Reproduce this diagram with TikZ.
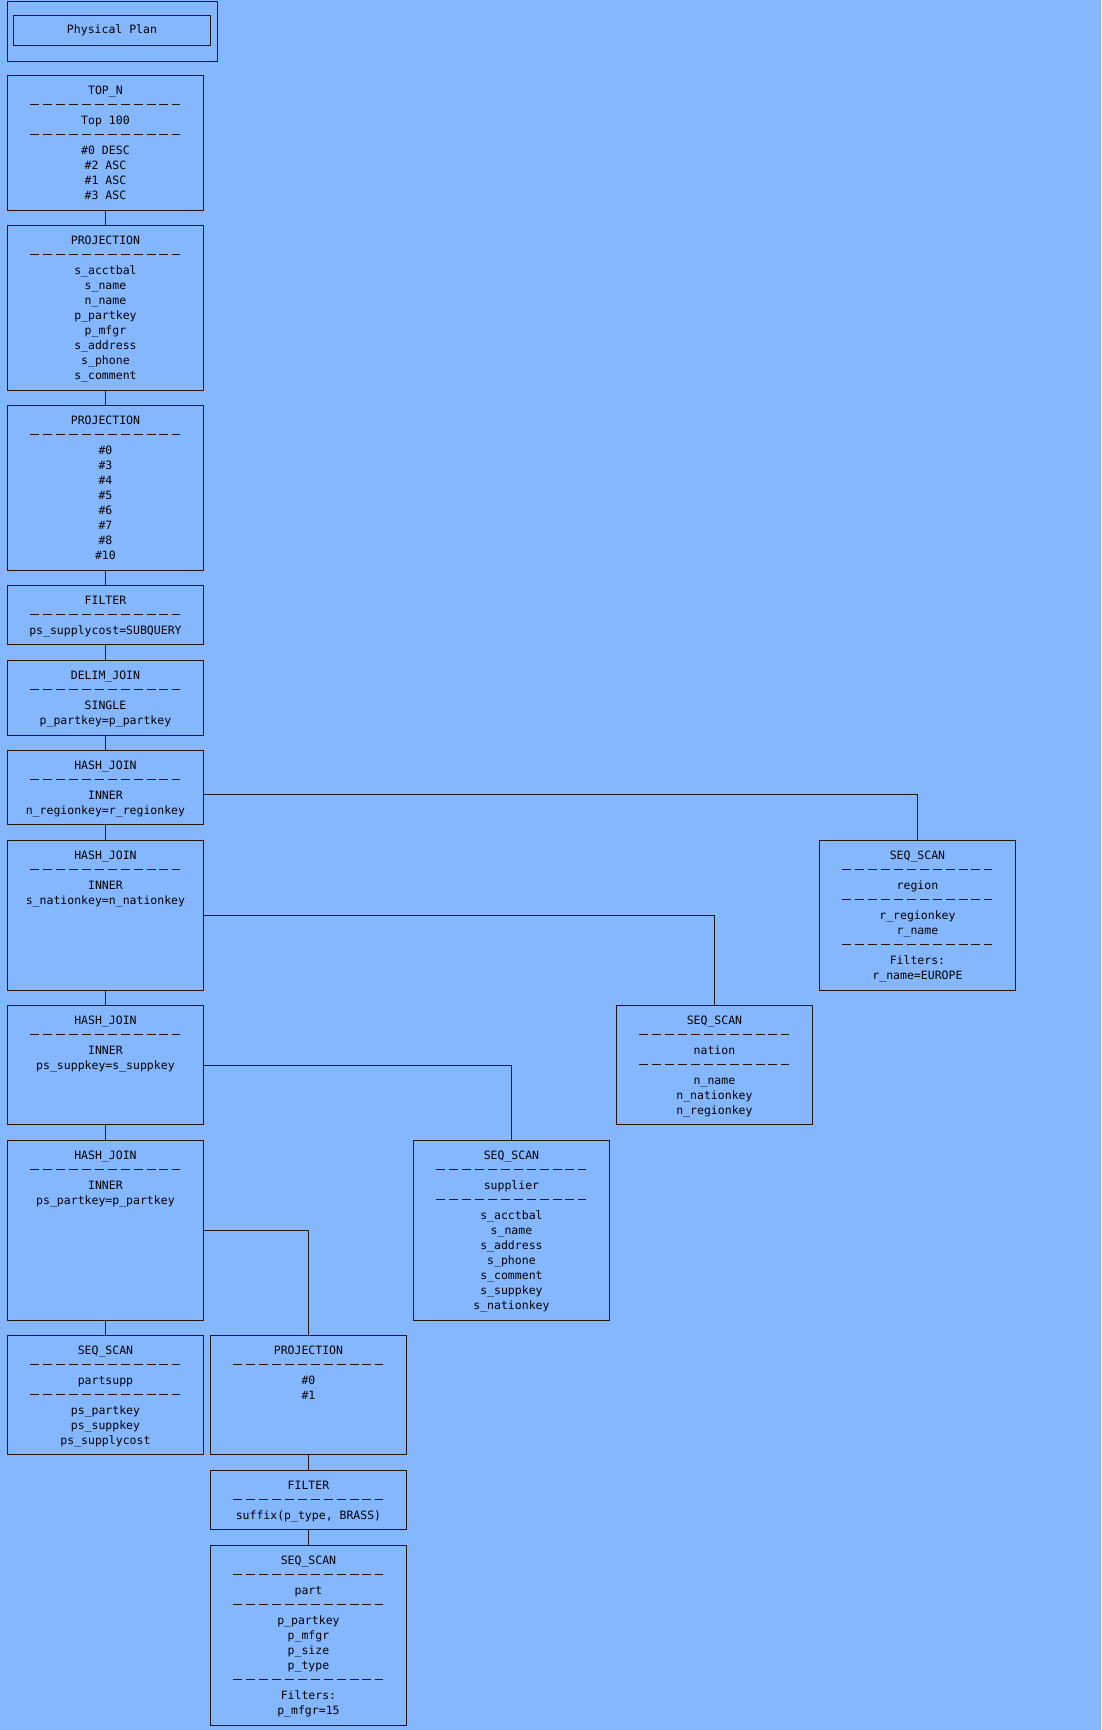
\documentclass[tikz,border=0pt]{standalone}
\usepackage{fontspec}
\setmainfont{DejaVu Sans Mono}
\definecolor{bg}{RGB}{133,183,255}
\definecolor{ln}{RGB}{40,22,10}
\newcommand{\sepl}{\smash{\raisebox{4pt}{\tikz\draw[ln,line width=1pt,dash pattern=on 9pt off 3.9pt](0,0)--(150pt,0);}}}
\begin{document}
\begin{tikzpicture}[x=1pt,y=-1pt,
  box/.style={draw=ln,line width=0.9pt,anchor=north west,inner sep=0,minimum width=196pt},
  txt/.style={anchor=north,inner sep=0,align=center,font=\fontsize{11.5pt}{15pt}\selectfont,text=black},
  con/.style={draw=ln,line width=0.9pt}]
\fill[bg] (0,0) rectangle (1101,1730);
\useasboundingbox (0,0) rectangle (1101,1730);
% title
\node[draw=ln,line width=1pt,anchor=north west,minimum width=210pt,minimum height=60pt,inner sep=0] (outer) at (7,1) {};
\node[draw=ln,line width=1pt,anchor=north west,minimum width=197pt,minimum height=30pt,inner sep=0,font=\fontsize{11.5pt}{15pt}\selectfont] (title) at (13,15) {Physical Plan};
% boxes
\newcommand{\bx}[5]{\node[box,minimum height=#4pt] (#1) at (#2,#3) {};
  \node[txt] at ([yshift=-10.5pt]#1.north) {#5};}
\bx{topn}{7}{75}{135}{TOP\_N\\\sepl\\Top 100\\\sepl\\\#0 DESC\\\#2 ASC\\\#1 ASC\\\#3 ASC}
\bx{pa}{7}{225}{165}{PROJECTION\\\sepl\\s\_acctbal\\s\_name\\n\_name\\p\_partkey\\p\_mfgr\\s\_address\\s\_phone\\s\_comment}
\bx{pb}{7}{405}{165}{PROJECTION\\\sepl\\\#0\\\#3\\\#4\\\#5\\\#6\\\#7\\\#8\\\#10}
\bx{fa}{7}{585}{59}{FILTER\\\sepl\\ps\_supplycost=SUBQUERY}
\bx{dj}{7}{660}{75}{DELIM\_JOIN\\\sepl\\SINGLE\\p\_partkey=p\_partkey}
\bx{ha}{7}{750}{74}{HASH\_JOIN\\\sepl\\INNER\\n\_regionkey=r\_regionkey}
\bx{hb}{7}{840}{150}{HASH\_JOIN\\\sepl\\INNER\\s\_nationkey=n\_nationkey}
\bx{hc}{7}{1005}{119}{HASH\_JOIN\\\sepl\\INNER\\ps\_suppkey=s\_suppkey}
\bx{hd}{7}{1140}{180}{HASH\_JOIN\\\sepl\\INNER\\ps\_partkey=p\_partkey}
\bx{ps}{7}{1335}{119}{SEQ\_SCAN\\\sepl\\partsupp\\\sepl\\ps\_partkey\\ps\_suppkey\\ps\_supplycost}
\bx{pc}{210}{1335}{119}{PROJECTION\\\sepl\\\#0\\\#1}
\bx{fb}{210}{1470}{59}{FILTER\\\sepl\\suffix(p\_type, BRASS)}
\bx{pt}{210}{1545}{180}{SEQ\_SCAN\\\sepl\\part\\\sepl\\p\_partkey\\p\_mfgr\\p\_size\\p\_type\\\sepl\\Filters:\\p\_mfgr=15}
\bx{rg}{819}{840}{150}{SEQ\_SCAN\\\sepl\\region\\\sepl\\r\_regionkey\\r\_name\\\sepl\\Filters:\\r\_name=EUROPE}
\bx{na}{616}{1005}{119}{SEQ\_SCAN\\\sepl\\nation\\\sepl\\n\_name\\n\_nationkey\\n\_regionkey}
\bx{su}{413}{1140}{180}{SEQ\_SCAN\\\sepl\\supplier\\\sepl\\s\_acctbal\\s\_name\\s\_address\\s\_phone\\s\_comment\\s\_suppkey\\s\_nationkey}
% connectors
\foreach \a/\b in {topn/pa,pa/pb,pb/fa,fa/dj,dj/ha,ha/hb,hb/hc,hc/hd,hd/ps,pc/fb,fb/pt}
  \draw[con] (\a.south) -- (\b.north);
\draw[con] ([yshift=-44pt]ha.north east) -| (rg.north);
\draw[con] ([yshift=-75pt]hb.north east) -| (na.north);
\draw[con] ([yshift=-60pt]hc.north east) -| (su.north);
\draw[con] ([yshift=-90pt]hd.north east) -| (pc.north);
\end{tikzpicture}
\end{document}
